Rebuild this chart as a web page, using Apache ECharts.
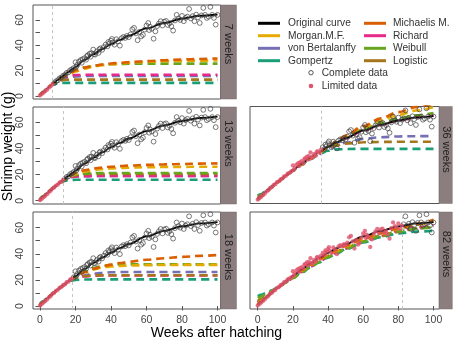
<!DOCTYPE html>
<html><head><meta charset="utf-8">
<script src="https://cdn.jsdelivr.net/npm/echarts@6/dist/echarts.min.js"></script>
<style>html,body{margin:0;padding:0;background:#fff}#c{width:474px;height:340px}</style>
</head><body><div id="c"></div>
<script>
// ---------- observed data (weeks after hatching, shrimp weight g) ----------
const weeks = [0,1,2,3,4,5,6,7,8,9,10,11,12,13,14,15,16,17,18,19,20,20.5,21,22,23,23.5,24,25,26,26.5,27,28,28.5,29,30,30.5,31,32,33,33.5,34,35,36,37,38,38.5,39,40,40.5,41,42,43,44,45,46,47,48,49,50,51,52,53,54,55,56,57,58,59,60,61,61.5,62,63,64,65,66,67,68,69,70,71,72,73,74,75,76,77,78,79,80,81,82,83,84,85,86,87,88,89,90,91,92,93,94,95,96,97,98,99,100];
const weights = [0.4,1.5,2.6,3.9,5.0,6.6,7.6,9.3,10.1,11.6,12.3,13.9,14.5,15.9,16.6,18.2,18.6,20.3,21.0,22.0,26.6,23.2,24.6,27.2,28.4,26.2,29.0,29.8,28.6,31.5,32.2,33.4,31.0,33.8,36.6,33.0,32.6,35.2,34.0,36.8,37.6,36.4,38.6,40.6,39.2,42.6,41.4,43.6,45.0,42.2,40.5,44.8,43.2,39.7,45.6,46.6,45.8,47.4,46.4,48.6,52.6,53.7,49.4,44.0,50.6,47.0,48.2,52.4,55.6,57.6,52.0,54.6,53.0,45.2,51.0,55.2,57.2,59.0,55.6,58.6,59.2,56.0,57.4,55.0,51.6,59.6,64.0,61.2,60.0,63.2,59.0,61.6,62.6,68.7,61.2,63.0,59.0,64.2,62.0,57.6,63.6,69.5,64.0,61.6,62.6,70.3,64.0,61.6,56.3,64.0];

// weeks at which the fitted curves are read
const curveWeeks = [0,2,4,6,8,10,12,14,16,18,20,25,30,35,40,45,50,60,70,80,90,100];
const original = [0.8,3.3,5.8,8.2,10.5,12.7,14.8,16.8,19.0,21.0,23.0,28.3,32.8,37.0,40.8,44.3,47.6,53.3,57.6,61.0,63.3,64.3];

// panel cut-offs (weeks of limited data)
const cutoffs = [7,13,18,36,82];
const stripLabels = ['7 weeks','13 weeks','18 weeks','36 weeks','82 weeks'];

// fits, 7 weeks
const vb7   = [0.5,3.0,5.6,8.0,10.0,11.8,13.1,14.0,14.7,15.1,15.4,15.7,15.8,15.8,15.8,15.8,15.8,15.8,15.8,15.8,15.8,15.8];
const rich7 = [0.8,3.2,5.8,8.2,10.4,12.4,14.0,15.2,15.9,16.3,16.5,16.7,16.8,16.8,16.8,16.8,16.8,16.8,16.8,16.8,16.8,16.8];
const gomp7 = [1.0,3.3,5.8,7.9,9.2,9.9,10.2,10.3,10.3,10.3,10.3,10.3,10.3,10.3,10.3,10.3,10.3,10.3,10.3,10.3,10.3,10.3];
const logi7 = [1.0,3.2,5.8,8.2,10.2,11.5,12.3,12.7,12.8,12.9,12.9,12.9,12.9,12.9,12.9,12.9,12.9,12.9,12.9,12.9,12.9,12.9];
const weib7 = [0.3,3.0,5.8,8.3,10.6,12.8,14.8,16.6,18.0,19.3,20.4,22.5,23.8,24.6,25.0,25.3,25.4,25.5,25.5,25.5,25.5,25.5];
const morg7 = [0.5,3.0,5.7,8.1,10.2,12.2,14.0,15.6,17.0,18.3,19.4,21.6,23.1,24.2,25.0,25.7,26.2,26.9,27.4,27.7,27.9,28.0];
const mich7 = [0.0,3.0,5.6,8.0,10.2,12.3,14.2,15.8,17.3,18.9,20.3,22.5,23.8,24.8,25.6,26.2,26.7,27.5,28.2,28.8,29.2,29.6];
// fits, 13 weeks
const vb13   = [0.5,3.1,5.7,8.1,10.4,12.6,14.6,16.2,17.3,18.1,18.5,18.8,18.9,19.0,19.0,19.0,19.0,19.0,19.0,19.0,19.0,19.0];
const rich13 = [0.8,3.3,5.8,8.2,10.5,12.7,14.7,16.3,17.4,18.1,18.5,18.8,18.9,18.9,18.9,18.9,18.9,18.9,18.9,18.9,18.9,18.9];
const gomp13 = [1.5,3.5,5.8,8.2,10.5,12.6,14.2,15.2,15.7,15.9,16.0,16.0,16.0,16.0,16.0,16.0,16.0,16.0,16.0,16.0,16.0,16.0];
const logi13 = [1.2,3.4,5.9,8.3,10.6,12.8,14.8,16.6,18.0,19.0,19.7,20.3,20.5,20.5,20.5,20.5,20.5,20.5,20.5,20.5,20.5,20.5];
const weib13 = [0.3,3.0,5.7,8.2,10.6,12.8,14.8,16.6,18.1,19.2,19.9,20.8,21.1,21.2,21.2,21.2,21.2,21.2,21.2,21.2,21.2,21.2];
const morg13 = [0.5,3.1,5.7,8.2,10.5,12.7,14.8,16.6,18.1,19.4,20.5,22.3,23.5,24.2,24.7,25.0,25.3,25.6,25.8,25.9,26.0,26.0];
const mich13 = [0.0,3.0,5.6,8.1,10.4,12.7,14.8,16.7,18.4,19.9,21.2,23.3,24.6,25.4,26.0,26.5,26.9,27.4,27.8,28.1,28.4,28.6];
// fits, 18 weeks
const vb18   = [0.3,2.9,5.5,7.9,10.2,12.4,14.5,16.4,18.2,19.8,21.1,23.4,24.7,25.4,25.8,26.0,26.0,26.0,26.0,26.0,26.0,26.0];
const rich18 = [0.8,3.2,5.7,8.1,10.4,12.6,14.7,16.8,18.6,20.1,21.2,22.6,23.2,23.4,23.4,23.4,23.4,23.4,23.4,23.4,23.4,23.4];
const gomp18 = [2.0,3.8,6.0,8.3,10.6,12.8,14.9,16.8,18.4,19.5,20.0,20.3,20.4,20.4,20.4,20.4,20.4,20.4,20.4,20.4,20.4,20.4];
const logi18 = [1.5,3.5,5.8,8.2,10.5,12.7,14.8,16.9,18.7,20.4,21.6,23.0,23.4,23.5,23.5,23.5,23.5,23.5,23.5,23.5,23.5,23.5];
const weib18 = [0.2,2.9,5.6,8.1,10.5,12.7,14.8,16.9,18.9,20.8,22.6,26.5,29.0,30.6,31.4,31.8,31.9,31.9,31.9,31.9,31.9,31.9];
const morg18 = [0.5,3.0,5.6,8.1,10.4,12.6,14.7,16.8,18.8,20.8,22.4,25.8,28.0,29.4,30.2,30.7,31.0,31.3,31.4,31.5,31.5,31.5];
const mich18 = [0.0,3.0,5.6,8.1,10.4,12.6,14.7,16.8,18.9,20.9,22.5,25.8,28.3,30.2,31.7,32.9,33.9,35.4,36.6,37.6,38.4,39.0];
// fits, 36 weeks
const vb36   = [0.3,2.8,5.2,7.6,9.9,12.1,14.3,16.4,18.5,20.5,22.4,27.0,31.3,35.2,38.7,41.7,44.0,46.9,48.2,48.8,49.0,49.1];
const rich36 = [1.0,3.3,5.6,7.9,10.1,12.3,14.4,16.5,18.6,20.6,22.6,27.4,31.8,36.0,40.0,43.8,47.2,53.0,57.6,61.0,63.4,65.0];
const gomp36 = [3.5,4.8,6.5,8.4,10.4,12.5,14.6,16.7,18.8,20.9,22.9,27.6,31.9,35.4,37.8,38.9,39.2,39.3,39.3,39.3,39.3,39.3];
const logi36 = [2.5,4.0,5.8,7.8,9.9,12.1,14.3,16.5,18.7,20.9,23.0,28.0,32.6,36.5,39.8,42.0,43.3,44.3,44.6,44.7,44.7,44.7];
const weib36 = [0.8,3.2,5.6,7.9,10.1,12.3,14.4,16.5,18.6,20.6,22.6,27.4,31.8,36.2,40.4,44.3,48.0,54.2,59.0,62.6,65.0,66.8];
const morg36 = [0.5,3.0,5.4,7.8,10.1,12.3,14.5,16.6,18.7,20.8,22.8,27.6,32.0,36.4,40.8,45.0,48.9,55.6,61.0,65.3,68.6,71.2];
const mich36 = [0.2,2.9,5.4,7.8,10.1,12.3,14.5,16.6,18.7,20.8,22.8,27.6,32.0,36.4,40.9,45.3,49.5,56.8,62.6,67.4,71.2,74.2];
// fits, 82 weeks
const vb82   = [3.0,4.8,6.7,8.6,10.5,12.4,14.3,16.2,18.1,19.9,21.7,26.1,30.2,34.0,37.6,40.9,43.9,49.2,53.6,57.0,59.4,61.0];
const rich82 = [2.5,4.5,6.5,8.5,10.5,12.5,14.4,16.3,18.2,20.0,21.8,26.2,30.4,34.2,37.8,41.1,44.2,49.6,54.0,57.6,60.2,62.0];
const gomp82 = [7.6,8.5,9.6,10.8,12.0,13.4,14.9,16.5,18.1,19.8,21.4,25.6,29.6,33.4,37.0,40.3,43.4,48.6,52.7,55.6,57.0,57.6];
const logi82 = [3.8,5.4,7.1,8.9,10.8,12.7,14.6,16.5,18.4,20.3,22.2,26.8,31.1,35.0,38.6,41.8,44.6,49.5,53.5,56.8,59.3,61.2];
const weib82 = [6.2,7.3,8.6,10.0,11.5,13.0,14.6,16.3,18.0,19.7,21.4,25.7,29.8,33.7,37.4,40.8,43.9,49.4,53.8,57.2,59.3,60.5];
const morg82 = [1.5,3.8,6.0,8.2,10.4,12.5,14.6,16.6,18.6,20.6,22.5,27.1,31.4,35.4,39.1,42.5,45.6,51.0,55.4,59.0,62.2,65.0];
const mich82 = [0.5,3.0,5.4,7.8,10.1,12.3,14.5,16.6,18.7,20.8,22.8,27.5,31.9,35.9,39.6,43.0,46.1,51.5,55.9,59.5,62.8,66.0];

const yTicks = [0,10,20,30,40,50,60];
const yLabels = [0,20,40,60];
const xLabels = [0,20,40,60,80,100];

// ---------- styling / layout ----------
const FONT = '"Liberation Sans", Arial, Helvetica, sans-serif';
const models = [
  {name:'von Bertalanffy', color:'#7570B3', fits:[vb7,vb13,vb18,vb36,vb82]},
  {name:'Richard', color:'#E7298A', fits:[rich7,rich13,rich18,rich36,rich82]},
  {name:'Gompertz', color:'#1B9E77', fits:[gomp7,gomp13,gomp18,gomp36,gomp82]},
  {name:'Logistic', color:'#A6761D', fits:[logi7,logi13,logi18,logi36,logi82]},
  {name:'Weibull', color:'#66A61E', fits:[weib7,weib13,weib18,weib36,weib82]},
  {name:'Morgan.M.F.', color:'#E6AB02', fits:[morg7,morg13,morg18,morg36,morg82]},
  {name:'Michaelis M.', color:'#D95F02', fits:[mich7,mich13,mich18,mich36,mich82]}
];
const layout = [
  {left:33, width:187.5, top:5, height:94, xmin:-3.95, xmax:101.7, ymin:-2.4, ymax:71.8, yAxisShow:true, xAxisShow:false, stripX:220.5, stripY:44},
  {left:33, width:187.5, top:107, height:97, xmin:-3.95, xmax:101.7, ymin:-2.5, ymax:71.7, yAxisShow:true, xAxisShow:false, stripX:220.5, stripY:143.5},
  {left:33, width:187.5, top:212, height:97, xmin:-3.95, xmax:101.7, ymin:-2.3, ymax:72.0, yAxisShow:true, xAxisShow:true, stripX:220.5, stripY:257},
  {left:250, width:189.3, top:106.5, height:97, xmin:-4.4, xmax:103.3, ymin:-2.5, ymax:71.7, yAxisShow:false, xAxisShow:false, stripX:439.3, stripY:149.5},
  {left:250, width:189.3, top:212, height:97, xmin:-4.4, xmax:103.3, ymin:-2.3, ymax:72.0, yAxisShow:false, xAxisShow:true, stripX:439.3, stripY:254}
];
const RED = '#DF536B';

const grids = [], xAxes = [], yAxes = [], series = [], graphic = [];
layout.forEach((L, p) => {
  grids.push({left:L.left, top:L.top, width:L.width, height:L.height, show:true, borderColor:'#555', borderWidth:1, backgroundColor:'transparent'});
  xAxes.push({type:'value', gridIndex:p, min:L.xmin, max:L.xmax,
    axisLine:{show:false}, splitLine:{show:false},
    axisTick:{show:L.xAxisShow, length:4.5, lineStyle:{color:'#555'}, customValues:xLabels},
    axisLabel:{show:L.xAxisShow, margin:6, fontSize:10.5, color:'#444', fontFamily:FONT, customValues:xLabels}});
  yAxes.push({type:'value', gridIndex:p, min:L.ymin, max:L.ymax,
    axisLine:{show:false}, splitLine:{show:false},
    axisTick:{show:L.yAxisShow, length:4.5, lineStyle:{color:'#555'}, customValues:yTicks},
    axisLabel:{show:L.yAxisShow, rotate:90, margin:7, fontSize:10.5, color:'#444', fontFamily:FONT, customValues:yLabels}});
  const cut = cutoffs[p];
  models.forEach(m => {
    series.push({type:'line', xAxisIndex:p, yAxisIndex:p, name:m.name, showSymbol:false, symbol:'none',
      smooth:0.35, smoothMonotone:'x', z:2,
      lineStyle:{color:m.color, width:2.6, type:[8,5]},
      data:curveWeeks.map((w,i)=>[w, m.fits[p][i]])});
  });
  series.push({type:'line', xAxisIndex:p, yAxisIndex:p, name:'Original curve', showSymbol:false, symbol:'none',
    smooth:0.35, smoothMonotone:'x', z:3,
    lineStyle:{color:'#000', width:1.8},
    data:curveWeeks.map((w,i)=>[w, original[i]]),
    markLine:{silent:true, symbol:'none', label:{show:false}, animation:false,
      lineStyle:{color:'#c4c4c4', width:1, type:[3,3]}, data:[{xAxis:cut}]}});
  const complete = [], limited = [];
  weeks.forEach((w,i)=>{ (w > cut ? complete : limited).push([w, weights[i]]); });
  series.push({type:'scatter', xAxisIndex:p, yAxisIndex:p, name:'Complete data', symbol:'circle', symbolSize:4.8, z:4,
    itemStyle:{color:'rgba(0,0,0,0)', borderColor:'#444', borderWidth:0.9}, data:complete});
  series.push({type:'scatter', xAxisIndex:p, yAxisIndex:p, name:'Limited data', symbol:'circle', symbolSize:4.3, z:5,
    itemStyle:{color:RED}, data:limited});
  // strip
  const sw = p < 3 ? 16 : 13;
  graphic.push({type:'rect', shape:{x:L.stripX, y:L.top, width:sw, height:L.height}, style:{fill:'#8c7e7e', stroke:'#7a6e6e', lineWidth:0.5}, z:10});
  graphic.push({type:'text', x:L.stripX + sw/2, y:L.stripY, rotation:-Math.PI/2, z:11,
    style:{text:stripLabels[p], fill:'#222', font:'11px ' + FONT, align:'center', verticalAlign:'middle', textAlign:'center', textVerticalAlign:'middle'}});
});

// axis titles
graphic.push({type:'text', x:216.5, y:333, z:11, style:{text:'Weeks after hatching', fill:'#000', font:'14px ' + FONT, align:'center', verticalAlign:'middle', textAlign:'center', textVerticalAlign:'middle'}});
graphic.push({type:'text', x:8.5, y:146.5, rotation:Math.PI/2, z:11, style:{text:'Shrimp weight (g)', fill:'#000', font:'14px ' + FONT, align:'center', verticalAlign:'middle', textAlign:'center', textVerticalAlign:'middle'}});

// legend
const legendCol1 = [['Original curve','#000'],['Morgan.M.F.','#E6AB02'],['von Bertalanffy','#7570B3'],['Gompertz','#1B9E77']];
const legendCol2 = [['Michaelis M.','#D95F02'],['Richard','#E7298A'],['Weibull','#66A61E'],['Logistic','#A6761D']];
const rowY = [23.3, 35.7, 48.3, 60.7];
const addLegend = (items, lx1, lx2, tx) => items.forEach((it, i) => {
  graphic.push({type:'line', shape:{x1:lx1, y1:rowY[i], x2:lx2, y2:rowY[i]}, style:{stroke:it[1], lineWidth:3}, z:11});
  graphic.push({type:'text', x:tx, y:rowY[i], z:11, style:{text:it[0], fill:'#333', font:'10.2px ' + FONT, align:'left', verticalAlign:'middle', textAlign:'left', textVerticalAlign:'middle'}});
});
addLegend(legendCol1, 258, 280, 288);
addLegend(legendCol2, 364, 386, 393);
graphic.push({type:'circle', shape:{cx:311, cy:72.7, r:2.2}, style:{fill:'none', stroke:'#444', lineWidth:0.9}, z:11});
graphic.push({type:'text', x:321.7, y:72.7, z:11, style:{text:'Complete data', fill:'#333', font:'10.2px ' + FONT, align:'left', verticalAlign:'middle', textAlign:'left', textVerticalAlign:'middle'}});
graphic.push({type:'circle', shape:{cx:311, cy:86, r:2.3}, style:{fill:RED}, z:11});
graphic.push({type:'text', x:321.7, y:86, z:11, style:{text:'Limited data', fill:'#333', font:'10.2px ' + FONT, align:'left', verticalAlign:'middle', textAlign:'left', textVerticalAlign:'middle'}});

const chart = echarts.init(document.getElementById('c'), null, {renderer:'canvas'});
chart.setOption({animation:false, backgroundColor:'#fff', grid:grids, xAxis:xAxes, yAxis:yAxes, series:series, graphic:{elements:graphic}});
</script></body></html>
